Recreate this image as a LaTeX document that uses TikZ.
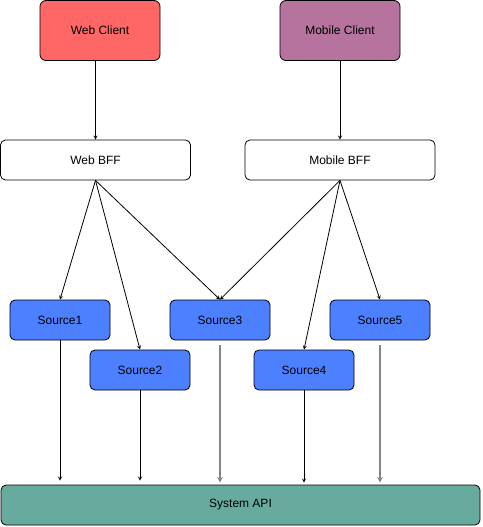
\documentclass[tikz,border=0pt]{standalone}
\usepackage{fontspec}
\setmainfont{Liberation Sans}
\definecolor{webred}{HTML}{FF6666}
\definecolor{mobilepurple}{HTML}{B5739D}
\definecolor{sourceblue}{HTML}{4D80FF}
\definecolor{apigreen}{HTML}{67AB9F}
\definecolor{linegray}{HTML}{858585}
\begin{document}
\begin{tikzpicture}[x=1pt, y=-1pt, >=stealth, line width=0.8pt,
    client/.style={draw, rectangle, rounded corners=6pt, minimum width=120pt, minimum height=60pt},
    bff/.style={draw, rectangle, rounded corners=5pt, fill=white, minimum width=190pt, minimum height=40pt},
    source/.style={draw, rectangle, rounded corners=5pt, fill=sourceblue, minimum width=100pt, minimum height=40pt},
    every node/.style={font=\fontsize{12}{14}\selectfont, inner sep=0pt}]

    \useasboundingbox (0,0) rectangle (482,527);

    % Nodes
    \node at (100, 30.5) (WC) [client, fill=webred] {Web Client};
    \node at (340, 30.5) (MC) [client, fill=mobilepurple] {Mobile Client};

    \node at (95.5, 160) (WB) [bff] {Web BFF};
    \node at (340, 160) (MB) [bff] {Mobile BFF};

    \node at (60, 320) (S1) [source] {Source1};
    \node at (140, 370) (S2) [source] {Source2};
    \node at (220, 320) (S3) [source] {Source3};
    \node at (304, 370) (S4) [source] {Source4};
    \node at (380, 320) (S5) [source] {Source5};

    \node at (240.5, 505) (API) [draw, rectangle, rounded corners=5pt, fill=apigreen, minimum width=479pt, minimum height=40pt] {System API};

    % Arrows
    \draw[->] (WC.south -| WB.north) -- (WB.north);
    \draw[->] (MC) -- (MB);

    \draw[->] (WB.south) -- (S1.north);
    \draw[->] (WB.south) -- (S2.north);
    \draw[->] (WB.south) -- (S3.north);

    \draw[->] (MB.south) -- (S3.north);
    \draw[->] (MB.south) -- (S4.north);
    \draw[->] (MB.south) -- (S5.north);

    \draw[->, shorten >=4pt] (S1.south) -- (S1.south |- API.north);
    \draw[->, shorten >=4pt] (S2.south) -- (S2.south |- API.north);
    \draw[->, linegray, line width=1.5pt, shorten <=5pt, shorten >=2pt] (S3.south) -- (S3.south |- API.north);
    \draw[->, shorten >=2pt] (S4.south) -- (S4.south |- API.north);
    \draw[->, linegray, line width=1.5pt, shorten <=5pt, shorten >=2pt] (S5.south) -- (S5.south |- API.north);

\end{tikzpicture}
\end{document}
